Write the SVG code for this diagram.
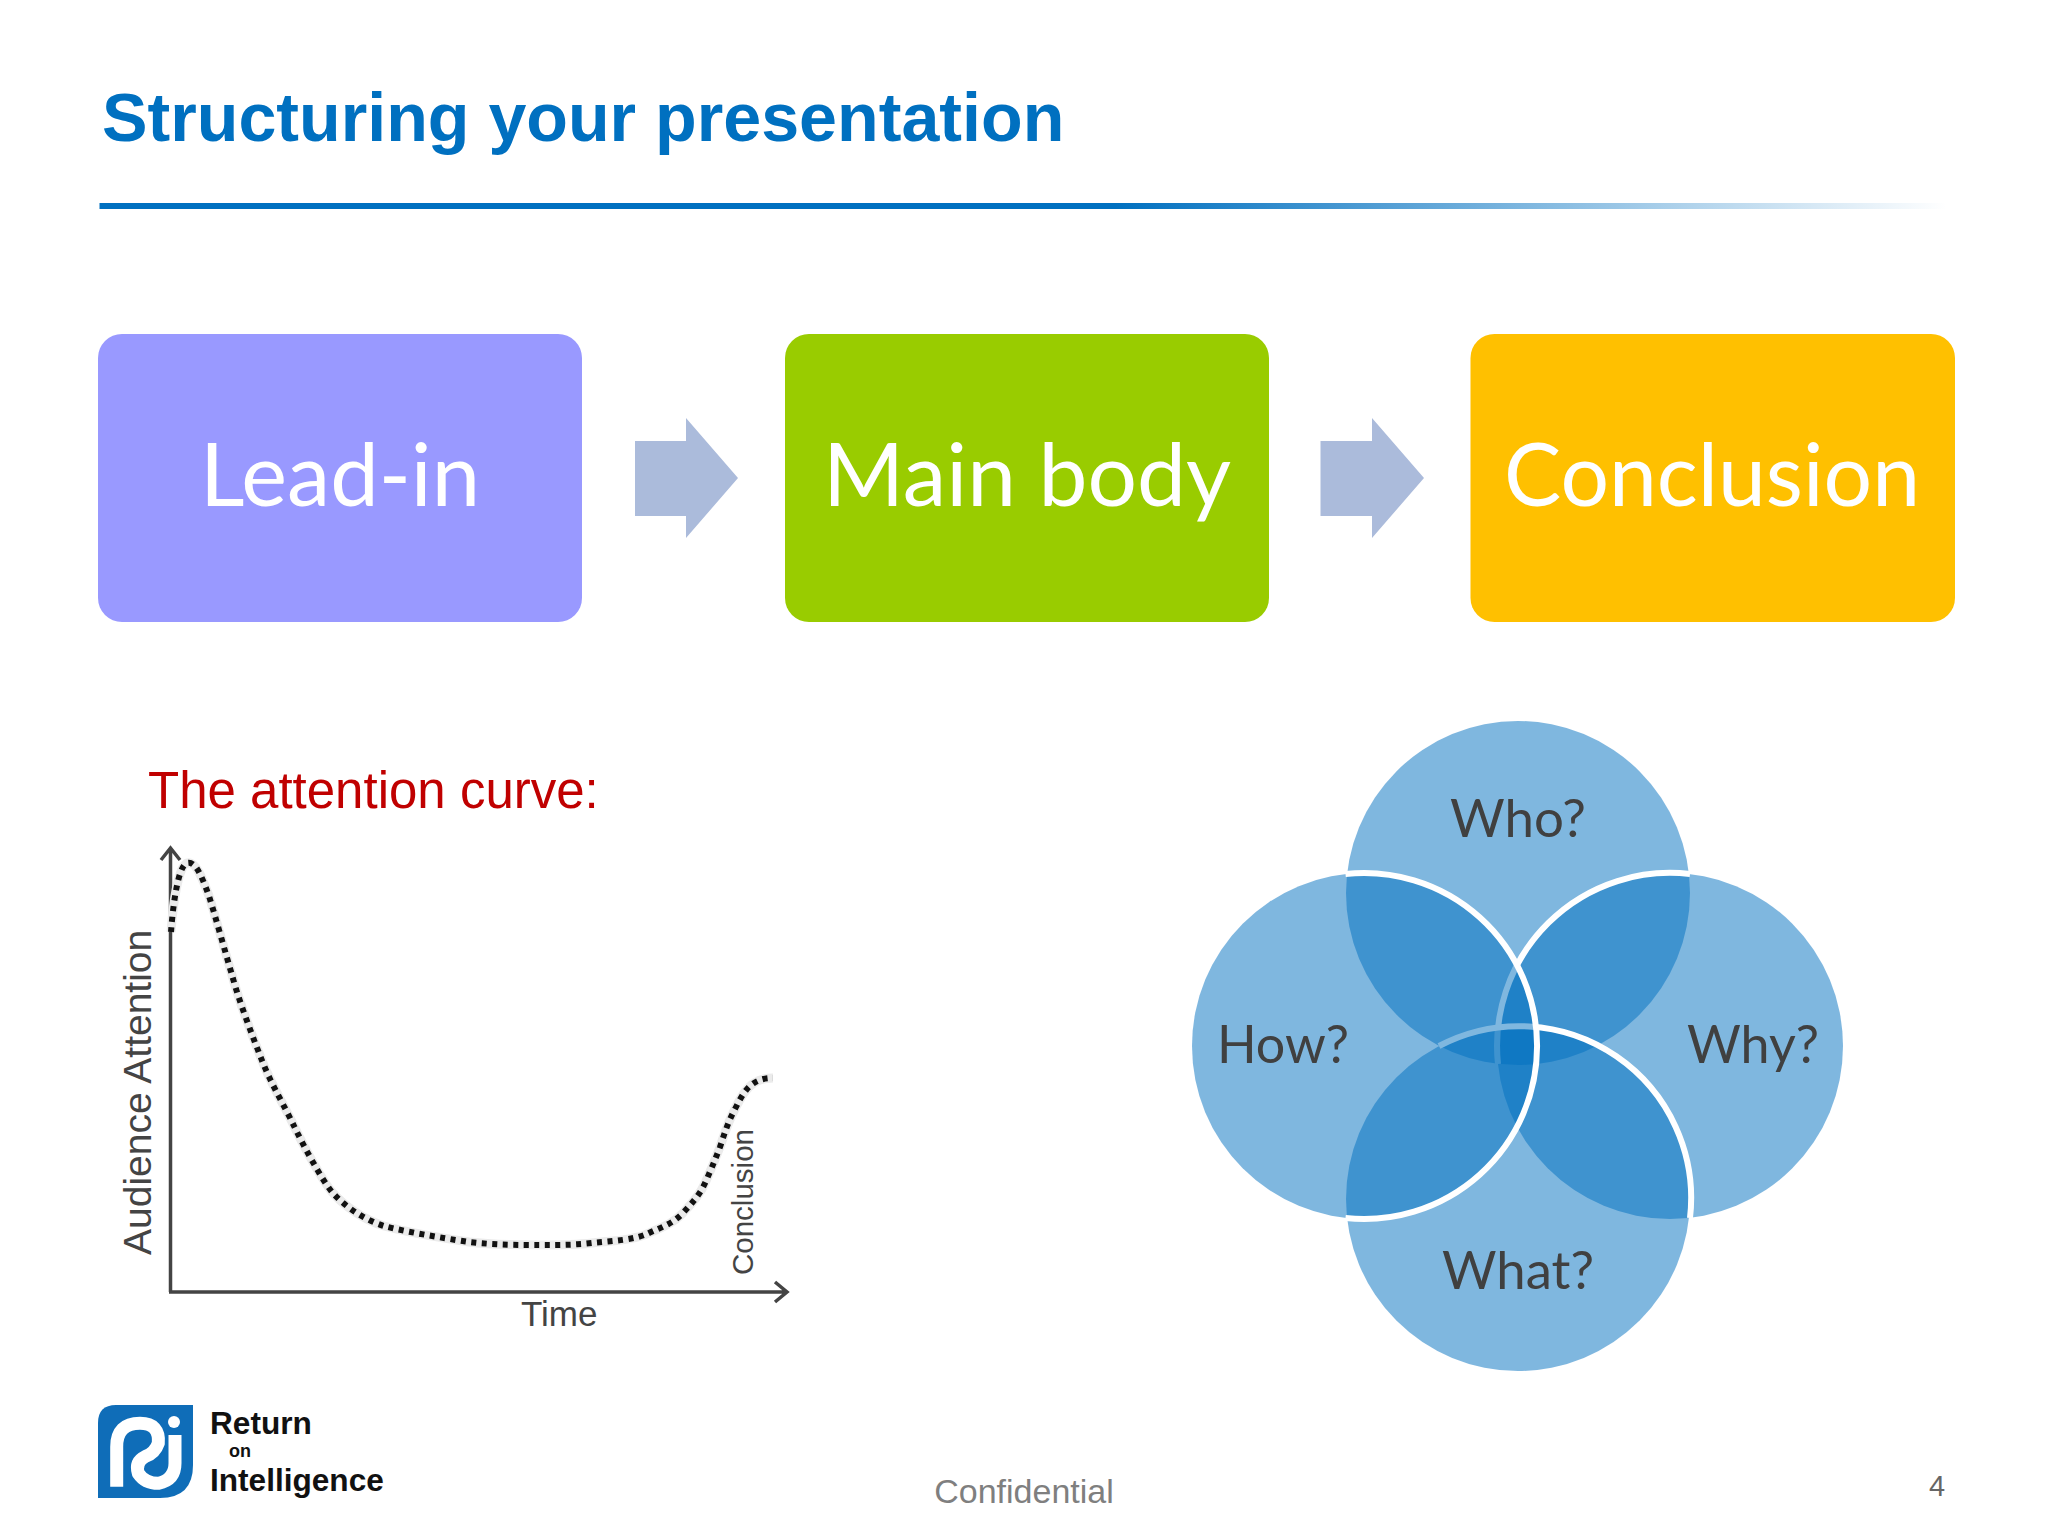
<svg xmlns="http://www.w3.org/2000/svg" width="2048" height="1536" viewBox="0 0 2048 1536">
<style>
.sans{font-family:"Liberation Sans",Arial,sans-serif}
.cal{font-family:Lato,"Open Sans",sans-serif}
.box{font-size:88px;fill:#fff;text-anchor:middle}
.venn{fill:#0070C0;fill-opacity:.5}
.arc{fill:none;stroke:#fff;stroke-width:6}
.vt{font-size:52px;fill:#404040;text-anchor:middle}
.chart{font-size:35px;fill:#444}
.logo{font-weight:bold;fill:#111}
.ar{fill:#ABBBDB}
</style>
<defs>
<linearGradient id="rule" x1="0" x2="1" y1="0" y2="0">
<stop offset="0" stop-color="#0070C0"/><stop offset=".55" stop-color="#0070C0"/><stop offset="1" stop-color="#0070C0" stop-opacity="0"/>
</linearGradient>
</defs>
<rect width="2048" height="1536" fill="#fff"/>
<g id="title">
<text class="sans" x="102" y="141" font-size="68.200" font-weight="bold" fill="#0070C0">Structuring your presentation</text>
<rect x="99.500" y="203" width="1847" height="6" fill="url(#rule)"/>
</g>
<g id="lead-in"><rect x="98" y="334" width="484" height="288" rx="24" fill="#9999FF"/><text class="cal box" x="340" y="506" textLength="280" lengthAdjust="spacingAndGlyphs">Lead-in</text></g>
<g id="main-body"><rect x="785" y="334" width="484" height="288" rx="24" fill="#99CC00"/><text class="cal box" x="1027" y="506" textLength="408" lengthAdjust="spacingAndGlyphs">Main body</text></g>
<g id="conclusion"><rect x="1470.500" y="334" width="484.500" height="288" rx="24" fill="#FFC000"/><text class="cal box" x="1712" y="506" textLength="416" lengthAdjust="spacingAndGlyphs">Conclusion</text></g>
<g id="connectors">
<path class="ar" d="M635 441H686V418L738 478L686 538V516H635Z"/>
<path class="ar" d="M1320.500 441H1372V418L1424 478L1372 538V516H1320.500Z"/>
</g>
<g id="attention-curve">
<text class="sans" x="148" y="808" font-size="51" fill="#C00000">The attention curve:</text>
<g fill="none" stroke="#444" stroke-width="3.500">
<path d="M170.500 1292V850M161 860L170.500 848L180 860"/>
<path d="M169 1292H787M775 1282L787 1292L775 1302"/>
</g>
<g fill="none" stroke-linejoin="round">
<path d="M171 932C173 905 178 866 187 863C196 860 203 880 209 896C215 915 226 955 232 975C238 998 252 1035 261 1058C270 1082 285 1107 294 1126C303 1145 322 1180 332 1192C345 1207 365 1220 384 1226C402 1231 442 1238 469 1242C495 1245 520 1245 540 1245C560 1245 575 1245 592 1243C612 1241 635 1240 649 1233C662 1227 672 1224 682 1214C692 1203 700 1195 706 1181C713 1165 715 1160 720 1147C725 1132 728 1122 735 1109C741 1097 746 1088 754 1083C760 1079 767 1078 773 1078" stroke="#ebebeb" stroke-width="9"/>
<path d="M171 932C173 905 178 866 187 863C196 860 203 880 209 896C215 915 226 955 232 975C238 998 252 1035 261 1058C270 1082 285 1107 294 1126C303 1145 322 1180 332 1192C345 1207 365 1220 384 1226C402 1231 442 1238 469 1242C495 1245 520 1245 540 1245C560 1245 575 1245 592 1243C612 1241 635 1240 649 1233C662 1227 672 1224 682 1214C692 1203 700 1195 706 1181C713 1165 715 1160 720 1147C725 1132 728 1122 735 1109C741 1097 746 1088 754 1083C760 1079 767 1078 773 1078" stroke="#111" stroke-width="6" stroke-dasharray="5 5.500"/>
</g>
<text class="sans chart" style="font-size:39px" transform="translate(151 1255) rotate(-90)">Audience Attention</text>
<text class="sans chart" style="font-size:29.500px" transform="translate(753 1275) rotate(-90)">Conclusion</text>
<text class="sans chart" x="521" y="1326">Time</text>
</g>
<g id="venn">
<g id="who"><circle class="venn" cx="1518" cy="893" r="172"/></g>
<g id="why"><circle class="venn" cx="1670" cy="1046" r="173"/><path class="arc" d="M1690 874A173 173 0 0 0 1498 1064"/></g>
<g id="what"><circle class="venn" cx="1518" cy="1199" r="172"/><path class="arc" d="M1439 1046A172 172 0 0 1 1690 1218"/></g>
<g id="how"><circle class="venn" cx="1365" cy="1046" r="173"/><path class="arc" d="M1345.500 874A173 173 0 1 1 1345.500 1218"/></g>
<text class="cal vt" x="1518" y="837" textLength="136" lengthAdjust="spacingAndGlyphs">Who?</text>
<text class="cal vt" x="1283" y="1063">How?</text>
<text class="cal vt" x="1753" y="1063">Why?</text>
<text class="cal vt" x="1518" y="1289" textLength="152" lengthAdjust="spacingAndGlyphs">What?</text>
</g>
<g id="logo">
<path d="M116 1405H193V1465Q193 1498 160 1498H98V1423Q98 1405 116 1405Z" fill="#0F6DB8"/>
<path d="M116.700 1486.700V1446.700Q116.700 1423.300 140 1423.300Q160 1423.300 158.300 1443.300Q155 1453.300 145 1456.700Q135 1461.700 138.300 1473.300Q145 1483.300 158.300 1483.300Q175 1480 175 1463.300V1435" fill="none" stroke="#fff" stroke-width="13"/>
<circle cx="174" cy="1422" r="6" fill="#fff"/>
<text class="sans logo" x="210" y="1434" font-size="31.600">Return</text>
<text class="sans logo" x="229" y="1457" font-size="18">on</text>
<text class="sans logo" x="210" y="1491" font-size="31.600">Intelligence</text>
</g>
<g id="footer">
<text class="sans" x="1024" y="1503" font-size="34" fill="#7F7F7F" text-anchor="middle">Confidential</text>
<text class="sans" x="1937" y="1496" font-size="29" fill="#666" text-anchor="middle">4</text>
</g>
</svg>
